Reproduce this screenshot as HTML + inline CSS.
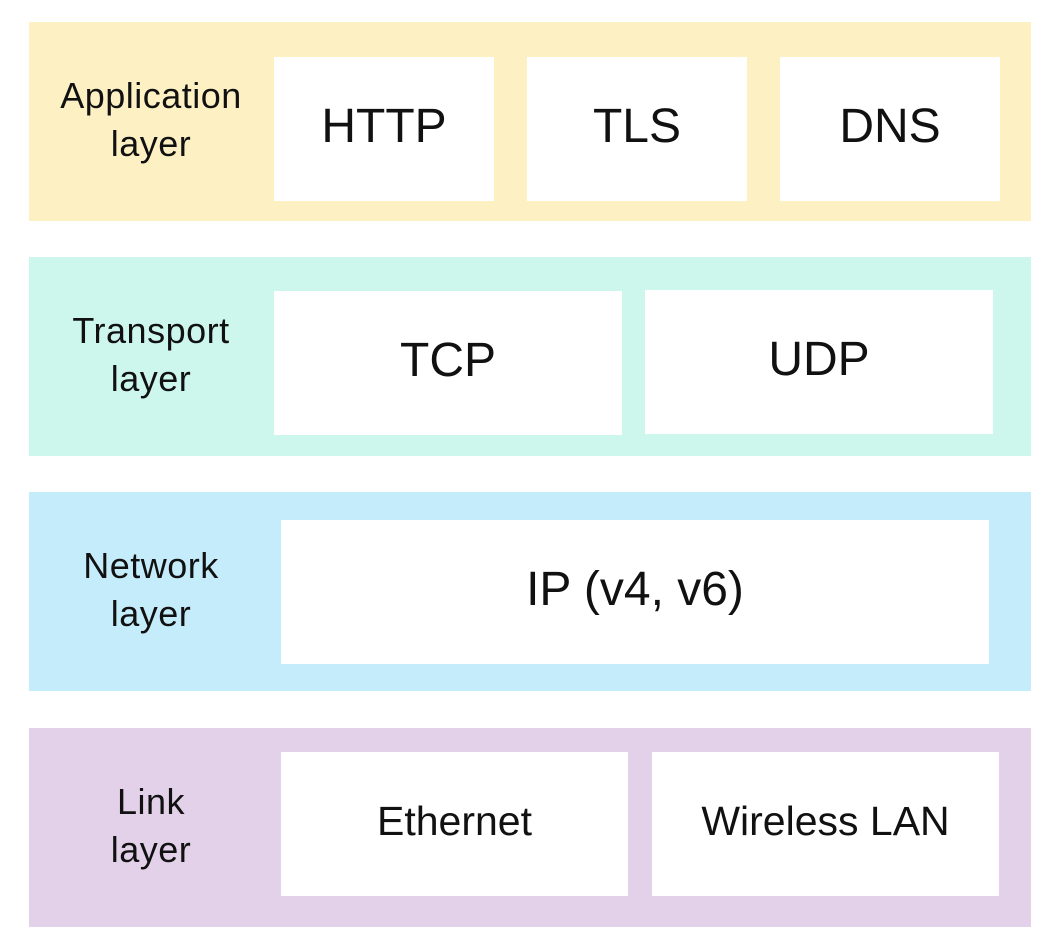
<!DOCTYPE html>
<html><head><meta charset="utf-8"><style>
html,body{margin:0;padding:0;background:#fff;width:1052px;height:944px;overflow:hidden;font-family:"Liberation Sans","DejaVu Sans",sans-serif;}
.band{position:absolute;left:29px;width:1002px;height:199px;}
.lab{position:absolute;left:29px;width:244px;text-align:center;font-size:36px;line-height:48px;color:#111;letter-spacing:0.5px;}
.box{position:absolute;background:#fff;height:144px;box-sizing:border-box;padding-bottom:6px;display:flex;align-items:center;justify-content:center;color:#111;font-size:48px;}
</style></head><body>
<div class="band" style="top:22px;background:#fdf1c4"></div>
<div class="band" style="top:257px;background:#cdf7ec"></div>
<div class="band" style="top:492px;background:#c5ecfb"></div>
<div class="band" style="top:728px;background:#e2d1e8"></div>

<div class="lab" style="top:72px">Application<br>layer</div>
<div class="lab" style="top:307px">Transport<br>layer</div>
<div class="lab" style="top:542px">Network<br>layer</div>
<div class="lab" style="top:778px">Link<br>layer</div>

<div class="box" style="left:274px;top:57px;width:220px">HTTP</div>
<div class="box" style="left:527px;top:57px;width:220px">TLS</div>
<div class="box" style="left:780px;top:57px;width:220px">DNS</div>

<div class="box" style="left:274px;top:291px;width:348px">TCP</div>
<div class="box" style="left:645px;top:290px;width:348px">UDP</div>

<div class="box" style="left:281px;top:520px;width:708px">IP (v4, v6)</div>

<div class="box" style="left:281px;top:752px;width:347px;font-size:41px">Ethernet</div>
<div class="box" style="left:652px;top:752px;width:347px;font-size:41px">Wireless LAN</div>
</body></html>
